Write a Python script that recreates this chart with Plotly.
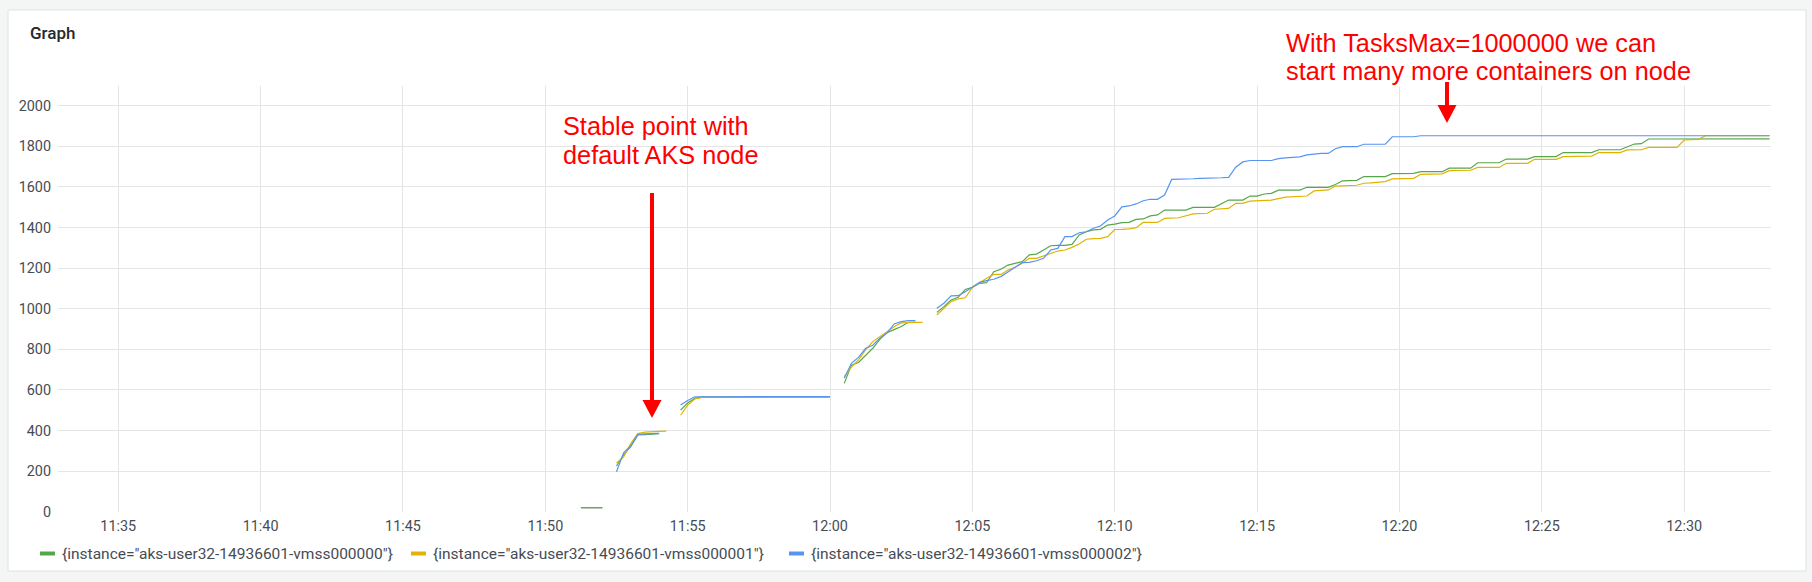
import plotly.graph_objects as go

DAY = "2023-01-01 "

# ---------------- data (time, value) ----------------
# None marks a gap in the series
green_t = ["11:51:15", "11:52:00", "11:52:15",
           "11:52:30", "11:52:45", "11:53:00", "11:53:15", "11:53:30", "11:53:45", "11:54:00", "11:54:30",
           "11:54:45", "11:55:00", "11:55:15", "11:55:30", "12:00:00", "12:00:15",
           "12:00:30", "12:00:45", "12:01:00", "12:01:15", "12:01:30", "12:01:45", "12:02:00", "12:02:15",
           "12:02:30", "12:02:45", "12:03:00", "12:03:20",
           "12:03:45", "12:04:00", "12:04:15", "12:04:30", "12:04:45", "12:05:00", "12:05:15", "12:05:30",
           "12:05:45", "12:06:00", "12:06:15", "12:06:30", "12:06:45", "12:07:00", "12:07:15", "12:07:30",
           "12:07:45", "12:08:00", "12:08:15", "12:08:30", "12:08:45", "12:09:00", "12:09:15", "12:09:30",
           "12:09:45", "12:10:00", "12:10:15", "12:10:30", "12:10:45", "12:11:00", "12:11:15", "12:11:30",
           "12:11:45", "12:12:30", "12:12:45", "12:13:30", "12:13:45", "12:14:00", "12:14:30", "12:14:45",
           "12:15:00", "12:15:15", "12:15:30", "12:15:45", "12:16:30", "12:16:45", "12:17:30", "12:17:45",
           "12:18:00", "12:18:30", "12:18:45", "12:19:30", "12:19:45", "12:20:30", "12:20:45", "12:21:30",
           "12:21:45", "12:22:30", "12:22:45", "12:23:30", "12:23:45", "12:24:30", "12:24:45", "12:25:30",
           "12:25:45", "12:26:45", "12:27:00", "12:27:45", "12:28:15", "12:28:30", "12:28:45", "12:33:00"]
green_v = [20, 20, None,
           225, 280, 320, 378, 380, 382, 384, None,
           500, 535, 558, 564, 565, None,
           632, 722, 735, 772, 805, 849, 882, 897,
           912, 933, 933, None,
           982, 1010, 1043, 1056, 1095, 1105, 1125, 1128,
           1182, 1194, 1215, 1222, 1232, 1265, 1269, 1289,
           1310, 1312, 1312, 1317, 1363, 1379, 1388, 1391,
           1412, 1417, 1424, 1425, 1440, 1442, 1457, 1462,
           1486, 1486, 1499, 1499, 1519, 1535, 1535, 1555,
           1555, 1565, 1568, 1584, 1584, 1598, 1598, 1612,
           1630, 1632, 1651, 1651, 1665, 1667, 1675, 1675,
           1692, 1692, 1719, 1719, 1737, 1737, 1749, 1749,
           1769, 1769, 1783, 1783, 1811, 1813, 1836, 1837]

yellow_t = ["11:51:15", "11:52:00", "11:52:15",
            "11:52:30", "11:52:45", "11:53:00", "11:53:15", "11:53:30", "11:53:45", "11:54:00", "11:54:15", "11:54:30",
            "11:54:45", "11:55:00", "11:55:15", "11:55:30", "11:55:45", "12:00:00", "12:00:15",
            "12:00:30", "12:00:45", "12:01:00", "12:01:15", "12:01:30", "12:01:45", "12:02:00", "12:02:15",
            "12:02:30", "12:02:45", "12:03:00", "12:03:15", "12:03:30",
            "12:03:45", "12:04:00", "12:04:15", "12:04:30", "12:04:45", "12:05:00", "12:05:15", "12:05:30",
            "12:05:45", "12:06:00", "12:06:15", "12:06:30", "12:06:45", "12:07:00", "12:07:15", "12:07:30",
            "12:07:45", "12:08:00", "12:08:15", "12:08:30", "12:08:45", "12:09:00", "12:09:15", "12:09:30",
            "12:09:45", "12:10:00", "12:10:15", "12:10:30", "12:10:45", "12:11:00", "12:11:30", "12:11:45",
            "12:12:15", "12:12:30", "12:12:45", "12:13:15", "12:13:30", "12:14:00", "12:14:15", "12:14:30",
            "12:14:45", "12:15:30", "12:15:45", "12:16:00", "12:16:45", "12:17:00", "12:17:30", "12:17:45",
            "12:18:30", "12:18:45", "12:19:00", "12:19:30", "12:19:45", "12:20:30", "12:20:45", "12:21:30",
            "12:21:45", "12:22:30", "12:22:45", "12:23:30", "12:23:45", "12:24:30", "12:24:45", "12:25:30",
            "12:25:45", "12:26:45", "12:27:00", "12:27:45", "12:28:00", "12:28:30", "12:28:45", "12:29:45",
            "12:30:00", "12:30:30", "12:30:45", "12:33:00"]
yellow_v = [20, 20, None,
            240, 270, 335, 385, 392, 395, 396, 397, None,
            475, 525, 555, 563, 564, 564, None,
            665, 712, 748, 797, 838, 862, 887, 911,
            930, 933, 933, 933, None,
            969, 1002, 1035, 1048, 1054, 1105, 1128, 1150,
            1169, 1169, 1191, 1204, 1224, 1248, 1248, 1260,
            1273, 1284, 1289, 1302, 1319, 1342, 1345, 1346,
            1355, 1390, 1391, 1393, 1399, 1425, 1425, 1445,
            1448, 1457, 1467, 1470, 1490, 1494, 1519, 1519,
            1530, 1535, 1544, 1550, 1555, 1580, 1585, 1604,
            1608, 1618, 1620, 1626, 1639, 1642, 1662, 1664,
            1680, 1682, 1696, 1696, 1716, 1716, 1736, 1736,
            1749, 1752, 1769, 1769, 1782, 1783, 1795, 1795,
            1831, 1834, 1852, 1852]

blue_t = ["11:51:15", "11:52:00", "11:52:15",
          "11:52:30", "11:52:45", "11:53:00", "11:53:15", "11:53:30", "11:53:45", "11:54:00", "11:54:30",
          "11:54:45", "11:55:00", "11:55:15", "12:00:00", "12:00:15",
          "12:00:30", "12:00:45", "12:01:00", "12:01:15", "12:01:30", "12:01:45", "12:02:00", "12:02:15",
          "12:02:30", "12:02:45", "12:03:00", "12:03:20",
          "12:03:45", "12:04:00", "12:04:15", "12:04:30", "12:04:45", "12:05:00", "12:05:15", "12:05:30",
          "12:05:45", "12:06:00", "12:06:15", "12:06:30", "12:06:45", "12:07:00", "12:07:15", "12:07:30",
          "12:07:45", "12:08:00", "12:08:15", "12:08:30", "12:08:45", "12:09:00", "12:09:15", "12:09:30",
          "12:09:45", "12:10:00", "12:10:15", "12:10:30", "12:10:45", "12:11:00", "12:11:15", "12:11:30",
          "12:11:45", "12:12:00", "12:12:30", "12:12:45", "12:13:00", "12:13:30", "12:13:45", "12:14:00",
          "12:14:15", "12:14:30", "12:14:45", "12:15:30", "12:15:45", "12:16:00", "12:16:30", "12:16:45",
          "12:17:00", "12:17:15", "12:17:30", "12:17:45", "12:18:00", "12:18:30", "12:18:45", "12:19:30",
          "12:19:45", "12:20:30", "12:20:45", "12:33:00"]
blue_v = [20, 20, None,
          197, 290, 325, 381, 383, 385, 386, None,
          525, 548, 566, 567, None,
          657, 731, 760, 805, 820, 855, 880, 925,
          936, 941, 941, None,
          1002, 1027, 1063, 1064, 1084, 1108, 1130, 1138,
          1145, 1158, 1182, 1204, 1227, 1228, 1236, 1248,
          1289, 1297, 1355, 1355, 1374, 1379, 1396, 1407,
          1437, 1457, 1502, 1506, 1516, 1532, 1539, 1539,
          1560, 1637, 1637, 1640, 1642, 1642, 1645, 1647,
          1697, 1723, 1730, 1730, 1739, 1743, 1748, 1758,
          1762, 1765, 1765, 1788, 1798, 1798, 1810, 1810,
          1847, 1847, 1852, 1852]

series_names = ['{instance="aks-user32-14936601-vmss000000"}',
                '{instance="aks-user32-14936601-vmss000001"}',
                '{instance="aks-user32-14936601-vmss000002"}']
series_colors = ["#56A64B", "#E0B400", "#5794F2"]

y_ticks = [0, 200, 400, 600, 800, 1000, 1200, 1400, 1600, 1800, 2000]
x_ticks = ["11:35", "11:40", "11:45", "11:50", "11:55", "12:00", "12:05", "12:10",
           "12:15", "12:20", "12:25", "12:30"]
x_range = ["11:32:53", "12:33:03"]
y_range = [-1.5, 2097]

title_text = "Graph"
note1 = ["Stable point with", "default AKS node"]
note2 = ["With TasksMax=1000000 we can", "start many more containers on node"]

# ---------------- layout geometry (pixels) ----------------
W, H = 1812, 582
L, R, T, B = 58, 41, 86, 70
PW, PH = W - L - R, H - T - B
BOTTOM = T + PH


def px(x):
    return (x - L) / PW


def py(y):
    return (BOTTOM - y) / PH


fig = go.Figure()
for t, v, name, col in zip([green_t, yellow_t, blue_t], [green_v, yellow_v, blue_v],
                           series_names, series_colors):
    fig.add_trace(go.Scatter(x=[DAY + s for s in t], y=v, mode="lines", name=name,
                             line=dict(color=col, width=1.2), connectgaps=False,
                             showlegend=False))

shapes = []
annotations = []

# card
shapes.append(dict(type="rect", xref="paper", yref="paper", layer="below",
                   x0=px(8), x1=px(1806), y0=py(571), y1=py(10),
                   fillcolor="white", line=dict(color="#dfe1e4", width=1)))

# title
annotations.append(dict(text=title_text, xref="paper", yref="paper", x=px(28), y=py(33),
                        xanchor="left", yanchor="middle", showarrow=False,
                        font=dict(family="Roboto Medium, Roboto", size=17, color="#24292e")))

# legend
leg_x = [40, 411, 789]
for lx, name, col in zip(leg_x, series_names, series_colors):
    shapes.append(dict(type="rect", xref="paper", yref="paper",
                       x0=px(lx), x1=px(lx + 15), y0=py(555.5), y1=py(551.5),
                       fillcolor=col, line=dict(width=0)))
    annotations.append(dict(text=name, xref="paper", yref="paper", x=px(lx + 20), y=py(553.5),
                            xanchor="left", yanchor="middle", showarrow=False,
                            font=dict(family="Roboto", size=15.5, color="#464c54")))

# red notes
RED = "#ff0000"
for lines, lx, ys in [(note1, 561, [126, 155]), (note2, 1284, [42.5, 71])]:
    for txt, yy in zip(lines, ys):
        annotations.append(dict(text=txt, xref="paper", yref="paper", x=px(lx), y=py(yy),
                                xanchor="left", yanchor="middle", showarrow=False,
                                font=dict(family="Liberation Sans, Arial", size=25.3, color=RED)))

# arrows
for ax, y0, yh, tip in [(652, 193, 400, 418), (1447, 82, 105, 123)]:
    shapes.append(dict(type="line", xref="paper", yref="paper",
                       x0=px(ax), x1=px(ax), y0=py(y0), y1=py(yh + 2),
                       line=dict(color=RED, width=4)))
    shapes.append(dict(type="path", xref="paper", yref="paper",
                       path=f"M {px(ax - 9.5)} {py(yh)} L {px(ax + 9.5)} {py(yh)} L {px(ax)} {py(tip)} Z",
                       fillcolor=RED, line=dict(width=0)))

fig.update_layout(
    width=W, height=H,
    margin=dict(l=L, r=R, t=T, b=B),
    paper_bgcolor="#f4f5f5", plot_bgcolor="white",
    showlegend=False,
    shapes=shapes, annotations=annotations,
    font=dict(family="Roboto", size=14.4, color="#464c54"),
    xaxis=dict(type="date", range=[DAY + s for s in x_range],
               tickvals=[DAY + s for s in x_ticks], ticktext=x_ticks,
               showgrid=True, gridcolor="#e4e5e6", gridwidth=1,
               zeroline=False, showline=False, ticks="", ticklabelstandoff=4),
    yaxis=dict(range=y_range, tickvals=y_ticks,
               showgrid=True, gridcolor="#e4e5e6", gridwidth=1,
               zeroline=False, showline=False, ticks="", ticklabelstandoff=6),
)

fig.write_html("out.html", config={"displayModeBar": False},
               post_script="document.body.style.margin='0';document.body.style.overflow='hidden';")
